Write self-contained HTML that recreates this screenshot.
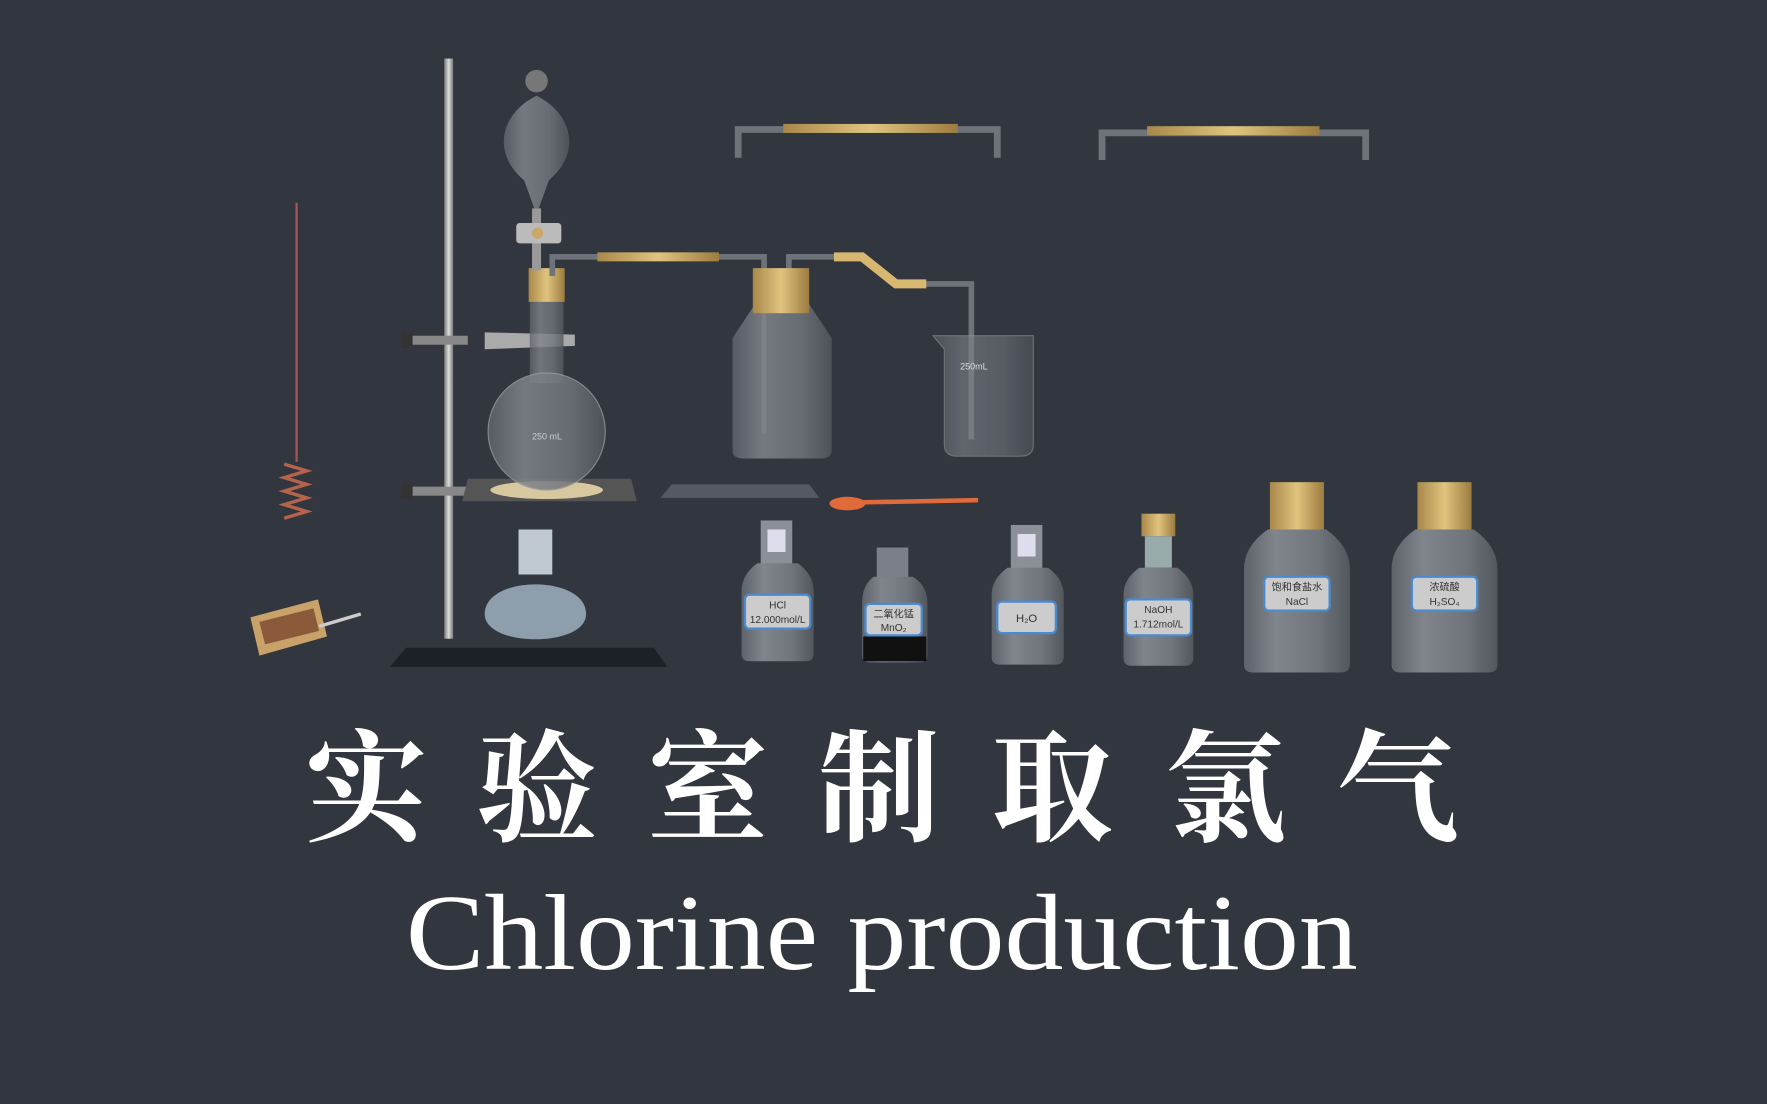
<!DOCTYPE html>
<html><head><meta charset="utf-8"><style>
html,body{margin:0;padding:0;background:#32363f;}
svg{display:block}
</style></head><body>
<svg width="1767" height="1104" viewBox="0 0 1568 980" xmlns="http://www.w3.org/2000/svg">
<defs>
<linearGradient id="glass" x1="0" x2="1"><stop offset="0" stop-color="#5e636b"/><stop offset="0.3" stop-color="#80858c"/><stop offset="0.7" stop-color="#70757c"/><stop offset="1" stop-color="#52575e"/></linearGradient>
<linearGradient id="gold" x1="0" x2="1"><stop offset="0" stop-color="#a8884a"/><stop offset="0.5" stop-color="#e0c47e"/><stop offset="1" stop-color="#9c7c40"/></linearGradient>
<linearGradient id="rod" x1="0" x2="1"><stop offset="0" stop-color="#777"/><stop offset="0.5" stop-color="#ddd"/><stop offset="1" stop-color="#777"/></linearGradient>
</defs>
<rect width="1568" height="980" fill="#32363f"/>

<polygon points="360,575 580,575 592,592 346,592" fill="#1d2026"/>
<rect x="394" y="52" width="8" height="515" fill="url(#rod)"/>
<rect x="360" y="298" width="55" height="8" fill="#888"/>
<rect x="360" y="432" width="55" height="8" fill="#888"/>
<rect x="356" y="295" width="10" height="14" fill="#333"/>
<rect x="356" y="429" width="10" height="14" fill="#333"/>
<polygon points="430,295 510,297 510,307 430,310" fill="#aaa"/>
<polygon points="415,425 560,425 565,445 410,445" fill="#555"/>
<ellipse cx="485" cy="435" rx="50" ry="8" fill="#d8c8a0"/>
<rect x="470" y="240" width="30" height="100" fill="url(#glass)" opacity="0.8"/>
<rect x="469" y="238" width="32" height="30" fill="url(#gold)"/>
<circle cx="485" cy="383" r="52" fill="url(#glass)" opacity="0.85" stroke="#999"/>
<text x="472" y="390" font-family="Liberation Sans" font-size="8" fill="#ccc">250 mL</text>
<circle cx="476" cy="72" r="10" fill="#777"/>
<path d="M476 85 C445 100 435 135 465 160 L474 185 L478 185 L487 160 C517 135 507 100 476 85Z" fill="url(#glass)" opacity="0.85"/>
<rect x="472" y="185" width="8" height="55" fill="#999"/>
<rect x="458" y="198" width="40" height="18" fill="#bbb" rx="3"/>
<circle cx="477" cy="207" r="5" fill="#c9a86a"/>
<path d="M460 470 h30 v40 h-30z" fill="#cfd8e0" opacity="0.9"/>
<path d="M430 545 C430 510 520 510 520 545 C520 575 430 575 430 545Z" fill="#9fb0c0" opacity="0.85"/>
<line x1="263" y1="180" x2="263" y2="410" stroke="#a55" stroke-width="2"/>
<path d="M252 412 l20 6 l-20 6 l20 6 l-20 6 l20 6 l-20 6 l20 6 l-20 6" stroke="#b5634a" stroke-width="3" fill="none"/>
<polygon points="222,548 282,532 290,565 230,582" fill="#c9a26a"/>
<polygon points="230,552 278,540 283,560 235,572" fill="#8a5a3a"/>
<line x1="283" y1="556" x2="320" y2="545" stroke="#ccc" stroke-width="3"/>

<path d="M655 140 V115 H885 V140" fill="none" stroke="#6e737a" stroke-width="6"/>
<rect x="695" y="110" width="155" height="8" fill="url(#gold)"/>
<path d="M978 142 V118 H1212 V142" fill="none" stroke="#6e737a" stroke-width="6"/>
<rect x="1018" y="112" width="153" height="8" fill="url(#gold)"/>
<path d="M490 245 V228 H678 V240" fill="none" stroke="#6e737a" stroke-width="5"/>
<rect x="530" y="224" width="108" height="8" fill="url(#gold)"/>
<path d="M700 240 V228 H765 L795 252 H862 V390" fill="none" stroke="#6e737a" stroke-width="5"/>
<path d="M740 228 H765 L795 252 H822" fill="none" stroke="#d8b870" stroke-width="8"/>
<line x1="678" y1="240" x2="678" y2="385" stroke="#777" stroke-width="4"/>
<path d="M670 270 L650 300 V400 Q650 407 660 407 H728 Q738 407 738 400 V300 L718 270Z" fill="url(#glass)" opacity="0.85"/>
<rect x="668" y="238" width="50" height="40" fill="url(#gold)"/>
<path d="M828 298 H917 V395 Q917 405 905 405 H850 Q838 405 838 395 V310Z" fill="url(#glass)" opacity="0.6" stroke="#999"/>
<text x="852" y="328" font-family="Liberation Sans" font-size="8" fill="#ddd">250mL</text>
<polygon points="596,430 718,430 727,442 586,442" fill="#555a62"/>
<ellipse cx="752" cy="447" rx="16" ry="6" fill="#e06a3a"/>
<line x1="760" y1="446" x2="868" y2="444" stroke="#e06a3a" stroke-width="4"/>

<g font-family="Liberation Sans,Noto Sans CJK SC,sans-serif" text-anchor="middle">
<g><rect x="675" y="462" width="28" height="40" fill="#8b9098"/><rect x="681" y="470" width="16" height="20" fill="#dde"/><path d="M672 500 Q658 510 658 525 V580 Q658 587 665 587 H715 Q722 587 722 580 V525 Q722 510 708 500Z" fill="url(#glass)"/>
<rect x="661" y="528" width="58" height="30" rx="4" fill="#ccc" stroke="#4a8ad0" stroke-width="2"/><text x="690" y="540" font-size="9" fill="#333">HCl</text><text x="690" y="553" font-size="9" fill="#333">12.000mol/L</text></g>
<g><rect x="778" y="486" width="28" height="30" fill="#7b8088"/><path d="M775 512 Q765 520 765 535 V582 Q765 588 772 588 H816 Q823 588 823 582 V535 Q823 520 810 512Z" fill="url(#glass)"/><rect x="766" y="565" width="56" height="22" fill="#111"/>
<rect x="768" y="536" width="50" height="28" rx="4" fill="#ccc" stroke="#4a8ad0" stroke-width="2"/><text x="793" y="548" font-size="9" fill="#333">二氧化锰</text><text x="793" y="560" font-size="9" fill="#333">MnO₂</text></g>
<g><rect x="897" y="466" width="28" height="40" fill="#8b9098"/><rect x="903" y="474" width="16" height="20" fill="#dde"/><path d="M894 504 Q880 514 880 528 V583 Q880 590 887 590 H937 Q944 590 944 583 V528 Q944 514 930 504Z" fill="url(#glass)"/>
<rect x="885" y="534" width="52" height="28" rx="4" fill="#ccc" stroke="#4a8ad0" stroke-width="2"/><text x="911" y="552" font-size="10" fill="#333">H₂O</text></g>
<g><rect x="1013" y="456" width="30" height="20" fill="url(#gold)"/><rect x="1016" y="476" width="24" height="28" fill="#9aa"/><path d="M1011 504 Q997 514 997 528 V584 Q997 591 1004 591 H1052 Q1059 591 1059 584 V528 Q1059 514 1045 504Z" fill="url(#glass)"/>
<rect x="999" y="532" width="58" height="32" rx="4" fill="#ccc" stroke="#4a8ad0" stroke-width="2"/><text x="1028" y="544" font-size="9" fill="#333">NaOH</text><text x="1028" y="557" font-size="9" fill="#333">1.712mol/L</text></g>
<g><rect x="1127" y="428" width="48" height="45" fill="url(#gold)"/><path d="M1125 470 Q1104 485 1104 505 V590 Q1104 597 1112 597 H1190 Q1198 597 1198 590 V505 Q1198 485 1177 470Z" fill="url(#glass)"/>
<rect x="1122" y="512" width="58" height="30" rx="4" fill="#ccc" stroke="#4a8ad0" stroke-width="2"/><text x="1151" y="524" font-size="9" fill="#333">饱和食盐水</text><text x="1151" y="537" font-size="9" fill="#333">NaCl</text></g>
<g><rect x="1258" y="428" width="48" height="45" fill="url(#gold)"/><path d="M1256 470 Q1235 485 1235 505 V590 Q1235 597 1243 597 H1321 Q1329 597 1329 590 V505 Q1329 485 1308 470Z" fill="url(#glass)"/>
<rect x="1253" y="512" width="58" height="30" rx="4" fill="#ccc" stroke="#4a8ad0" stroke-width="2"/><text x="1282" y="524" font-size="9" fill="#333">浓硫酸</text><text x="1282" y="537" font-size="9" fill="#333">H₂SO₄</text></g>
</g>

<g font-family="Liberation Serif,Noto Serif CJK SC,serif" fill="#fff" font-size="108" font-weight="bold" text-anchor="middle">
<text x="325" y="738">实</text><text x="476" y="738">验</text><text x="628" y="738">室</text><text x="780" y="738">制</text><text x="934" y="738">取</text><text x="1088" y="738">氯</text><text x="1240" y="738">气</text>
</g>
<text x="360" y="860" font-family="Liberation Serif,serif" font-size="96" fill="#fff" textLength="845" lengthAdjust="spacingAndGlyphs">Chlorine production</text>
</svg>
</body></html>
